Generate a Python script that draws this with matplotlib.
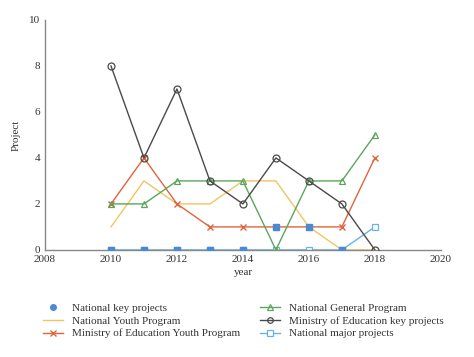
import matplotlib
matplotlib.use("Agg")
import matplotlib.pyplot as plt
from matplotlib.lines import Line2D

# Data
years = [2010, 2011, 2012, 2013, 2014, 2015, 2016, 2017, 2018]
key_years = [2010, 2011, 2012, 2013, 2014, 2015, 2016, 2017]
national_key = [0, 0, 0, 0, 0, 1, 1, 0]
national_youth = [1, 3, 2, 2, 3, 3, 1, 0, 0]
moe_youth = [2, 4, 2, 1, 1, 1, 1, 1, 4]
national_general = [2, 2, 3, 3, 3, 0, 3, 3, 5]
moe_key = [8, 4, 7, 3, 2, 4, 3, 2, 0]
national_major = [0, 0, 0, 0, 0, 0, 0, 0, 1]

plt.rcParams['font.family'] = ['Liberation Serif', 'DejaVu Serif']

fig = plt.figure(figsize=(4.74, 3.57), dpi=100)
ax = fig.add_axes([0.095, 0.30, 0.835, 0.644])

ms = 5
ax.plot(years, national_youth, color='#f2c462', lw=1.0, label='National Youth Program', zorder=2)
ax.plot(years, national_major, color='#67b3e6', lw=1.0, marker='s', ms=ms,
        mfc='white', mec='#67b3e6', mew=0.9, label='National major projects', zorder=2)
ax.plot(years, moe_youth, color='#e0643c', lw=1.0, marker='x', ms=ms, mew=1.0,
        label='Ministry of Education Youth Program', zorder=3)
ax.plot(years, national_general, color='#5aa65a', lw=1.0, marker='^', ms=ms,
        mfc='none', mec='#5aa65a', mew=0.9, label='National General Program', zorder=3)
ax.plot(years, moe_key, color='#4a4a4a', lw=1.0, marker='o', ms=ms,
        mfc='none', mec='#4a4a4a', mew=0.9, label='Ministry of Education key projects', zorder=3)
ax.plot(key_years, national_key, ls='none', marker='s', ms=ms, color='#4a89d3',
        label='National key projects', zorder=4)

ax.set_xlim(2008, 2020)
ax.set_ylim(0, 10)
ax.set_xticks(range(2008, 2021, 2))
ax.set_yticks(range(0, 11, 2))
ax.tick_params(labelsize=8, length=0, colors='#333333')
for s in ['top', 'right']:
    ax.spines[s].set_visible(False)
for s in ['left', 'bottom']:
    ax.spines[s].set_color('#888888')
    ax.spines[s].set_linewidth(1.0)
ax.set_xlabel('year', fontsize=8, labelpad=3, color='#333333')
ax.set_ylabel('Project', fontsize=8, labelpad=6, color='#333333')

handles, labels = ax.get_legend_handles_labels()
hl = dict(zip(labels, handles))
# legend shows a round dot for the key projects
hl['National key projects'] = Line2D([], [], ls='none', marker='o', ms=ms, color='#4a89d3')
order = ['National key projects', 'National Youth Program', 'Ministry of Education Youth Program',
         'National General Program', 'Ministry of Education key projects', 'National major projects']
ax.legend([hl[k] for k in order], order, loc='upper left', bbox_to_anchor=(-0.03, -0.19),
          ncol=2, frameon=False, fontsize=8, handlelength=1.8, handletextpad=0.8,
          labelspacing=0.25, columnspacing=1.8, markerscale=0.8, labelcolor='#333333')

fig.savefig('out.png', dpi=100)
